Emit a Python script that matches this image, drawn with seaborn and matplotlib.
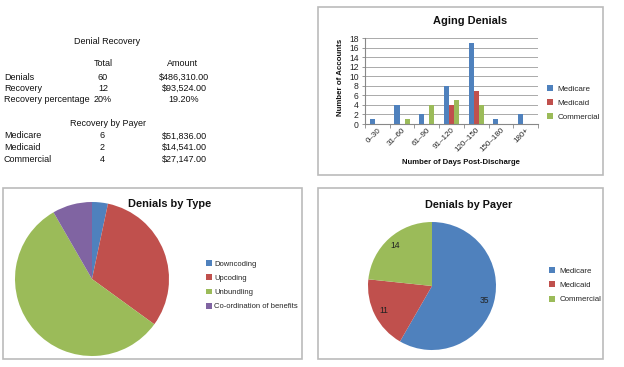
import numpy as np
import pandas as pd
import matplotlib
matplotlib.use("Agg")
import matplotlib.pyplot as plt
from matplotlib.patches import Rectangle
import seaborn as sns

# ---------------- data ----------------
age_ranges = ["0\u201330", "31\u201360", "61\u201390", "91\u2013120", "120\u2013150", "150\u2013180", "180+"]
payers = ["Medicare", "Medicaid", "Commercial"]
medicare_counts = [1, 4, 2, 8, 17, 1, 2]
medicaid_counts = [0, 0, 0, 4, 7, 0, 0]
commercial_counts = [0, 1, 4, 5, 4, 0, 0]

type_labels = ["Downcoding", "Upcoding", "Unbundling", "Co-ordination of benefits"]
type_values = [2, 19, 34, 5]

payer_values = [35, 11, 14]

table_title = "Denial Recovery"
table_cols = ["Total", "Amount"]
table_rows = ["Denials", "Recovery", "Recovery percentage"]
table_totals = ["60", "12", "20%"]
table_amounts = ["$486,310.00", "$93,524.00", "19.20%"]
payer_table_title = "Recovery by Payer"
payer_rows = ["Medicare", "Medicaid", "Commercial"]
payer_totals = ["6", "2", "4"]
payer_amounts = ["$51,836.00", "$14,541.00", "$27,147.00"]

colors = ["#4F81BD", "#C0504D", "#9BBB59", "#8064A2"]

# ---------------- figure ----------------
sns.set_style("white")
plt.rcParams["font.family"] = ["Liberation Sans", "DejaVu Sans"]
W, H = 624, 367
fig = plt.figure(figsize=(W / 100, H / 100), dpi=100)
fig.patch.set_facecolor("white")


def rect(x0, y0, x1, y1):
    return [x0 / W, 1 - y1 / H, (x1 - x0) / W, (y1 - y0) / H]


def fx(x):
    return x / W


def fy(y):
    return 1 - y / H


# frames
for (x0, y0, x1, y1) in [(318, 7, 603, 175), (3, 188, 302, 359), (318, 188, 603, 359)]:
    fig.patches.append(Rectangle((x0 / W, 1 - y1 / H), (x1 - x0) / W, (y1 - y0) / H,
                                 transform=fig.transFigure, fill=False,
                                 edgecolor="#BBBBBB", linewidth=1.2))

# ---------------- table text ----------------
tc = "#111111"
fs = 6.5
fig.text(fx(107), fy(41), table_title, ha="center", va="center", fontsize=fs, color=tc)
fig.text(fx(103), fy(64), table_cols[0], ha="center", va="center", fontsize=fs, color=tc)
fig.text(fx(183), fy(64), table_cols[1], ha="center", va="center", fontsize=fs, color=tc)
for i, (r, t, a) in enumerate(zip(table_rows, table_totals, table_amounts)):
    y = 77 + i * 11.5
    fig.text(fx(4), fy(y), r, ha="left", va="center", fontsize=fs, color=tc)
    fig.text(fx(103), fy(y), t, ha="center", va="center", fontsize=fs, color=tc)
    fig.text(fx(184), fy(y), a, ha="center", va="center", fontsize=fs, color=tc)
fig.text(fx(108), fy(124), payer_table_title, ha="center", va="center", fontsize=fs, color=tc)
for i, (r, t, a) in enumerate(zip(payer_rows, payer_totals, payer_amounts)):
    y = 136 + i * 11.5
    fig.text(fx(4), fy(y), r, ha="left", va="center", fontsize=fs, color=tc)
    fig.text(fx(102), fy(y), t, ha="center", va="center", fontsize=fs, color=tc)
    fig.text(fx(184), fy(y), a, ha="center", va="center", fontsize=fs, color=tc)

# ---------------- bar chart ----------------
df = pd.DataFrame({
    "Range": age_ranges * 3,
    "Accounts": medicare_counts + medicaid_counts + commercial_counts,
    "Payer": [payers[0]] * 7 + [payers[1]] * 7 + [payers[2]] * 7,
})
axb = fig.add_axes(rect(365, 38, 538, 124))
sns.barplot(data=df, x="Range", y="Accounts", hue="Payer", palette=colors[:3],
            width=0.62, saturation=1, errorbar=None, ax=axb, linewidth=0)
axb.set_ylim(0, 18)
axb.set_xlim(-0.5, 6.5)
axb.set_yticks(range(0, 19, 2))
axb.yaxis.grid(True, color="#AAAAAA", linewidth=0.7)
axb.set_axisbelow(True)
for s in ["top", "right"]:
    axb.spines[s].set_visible(False)
for s in ["left", "bottom"]:
    axb.spines[s].set_color("#888888")
    axb.spines[s].set_linewidth(0.8)
axb.tick_params(axis="y", labelsize=6.2, length=2.5, width=0.6, color="#888888", pad=2, direction="out", left=True)
axb.tick_params(axis="x", which="major", labelsize=5.8, length=0, pad=2)
axb.set_xticks(np.arange(-0.5, 7, 1), minor=True)
axb.tick_params(axis="x", which="minor", length=3, width=0.6, color="#888888", bottom=True)
plt.setp(axb.get_xticklabels(), rotation=45, ha="right", rotation_mode="anchor")
axb.set_xlabel("")
axb.set_ylabel("")
handles, labels = axb.get_legend_handles_labels()
if axb.get_legend() is not None:
    axb.get_legend().remove()
axb.legend(handles, labels, loc="upper left", bbox_to_anchor=(fx(547), fy(85)),
           bbox_transform=fig.transFigure, frameon=False, fontsize=5.8,
           handlelength=0.8, handleheight=0.8, handletextpad=0.5,
           labelspacing=0.75, borderaxespad=0, borderpad=0)
fig.text(fx(470), fy(21), "Aging Denials", ha="center", va="center", fontsize=7.9, fontweight="bold", color="#111111")
fig.text(fx(461), fy(163), "Number of Days Post-Discharge", ha="center", va="center",
         fontsize=5.6, fontweight="bold", color="#111111")
fig.text(fx(341), fy(77), "Number of Accounts", ha="center", va="center", rotation=90,
         fontsize=5.7, fontweight="bold", color="#111111")

# ---------------- pie: Denials by Type ----------------
axp1 = fig.add_axes(rect(92 - 77, 279 - 77, 92 + 77, 279 + 77))
w1, _ = axp1.pie(type_values, colors=colors, startangle=90, counterclock=False,
                 wedgeprops=dict(linewidth=0))
axp1.set_xlim(-1, 1)
axp1.set_ylim(-1, 1)
axp1.legend(w1, type_labels, loc="upper left", bbox_to_anchor=(fx(206), fy(260)),
            bbox_transform=fig.transFigure, frameon=False, fontsize=5.5,
            handlelength=0.8, handleheight=0.8, handletextpad=0.3,
            labelspacing=0.88, borderaxespad=0, borderpad=0)
fig.text(fx(170), fy(204), "Denials by Type", ha="center", va="center", fontsize=7.9, fontweight="bold", color="#111111")

# ---------------- pie: Denials by Payer ----------------
axp2 = fig.add_axes(rect(432 - 64, 286 - 64, 432 + 64, 286 + 64))
w2, _, autotexts = axp2.pie(payer_values, colors=colors[:3], startangle=90, counterclock=False,
                            wedgeprops=dict(linewidth=0), pctdistance=0.85,
                            autopct=lambda p: "%d" % round(p * sum(payer_values) / 100))
for t in autotexts:
    t.set_fontsize(6.2)
    t.set_color("#222222")
axp2.set_xlim(-1, 1)
axp2.set_ylim(-1, 1)
axp2.legend(w2, payers, loc="upper left", bbox_to_anchor=(fx(549), fy(267)),
            bbox_transform=fig.transFigure, frameon=False, fontsize=5.7,
            handlelength=0.8, handleheight=0.8, handletextpad=0.5,
            labelspacing=0.83, borderaxespad=0, borderpad=0)
fig.text(fx(469), fy(205), "Denials by Payer", ha="center", va="center", fontsize=7.8, fontweight="bold", color="#111111")

fig.savefig("out.png", dpi=100, facecolor="white")
